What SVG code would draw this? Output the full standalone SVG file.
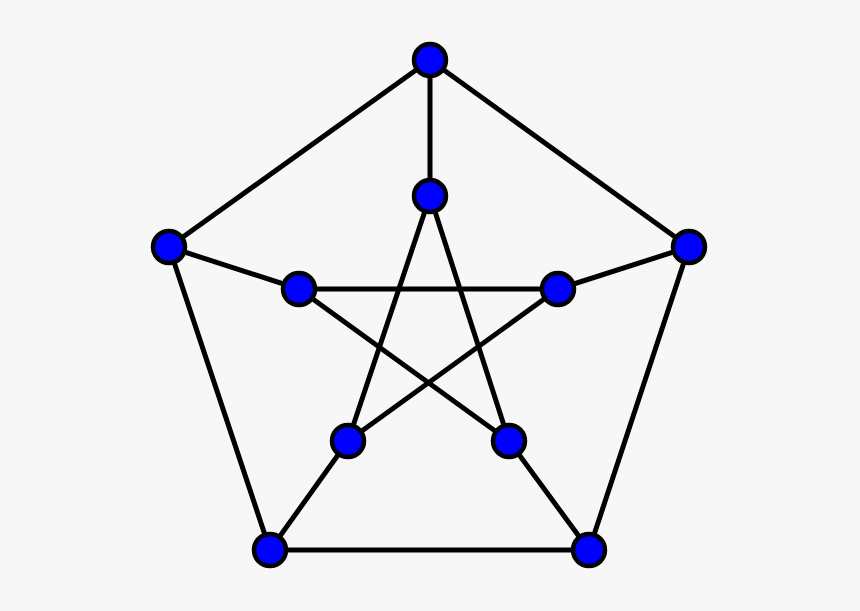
<svg xmlns="http://www.w3.org/2000/svg" width="860" height="611" viewBox="0 0 860 611">
<style>
.e{stroke:#000;stroke-width:5;fill:none;stroke-linecap:round}
.n{fill:#0000ff;stroke:#000;stroke-width:4.5}
</style>
<rect width="860" height="611" fill="#f7f7f7"/>
<g id="edges">
<line class="e" x1="430" y1="60" x2="689" y2="247"/>
<line class="e" x1="689" y1="247" x2="589" y2="550"/>
<line class="e" x1="589" y1="550" x2="270" y2="550"/>
<line class="e" x1="270" y1="550" x2="169" y2="247"/>
<line class="e" x1="169" y1="247" x2="430" y2="60"/>
<line class="e" x1="430" y1="60" x2="430" y2="196"/>
<line class="e" x1="689" y1="247" x2="558" y2="289"/>
<line class="e" x1="589" y1="550" x2="509" y2="441"/>
<line class="e" x1="270" y1="550" x2="348" y2="441"/>
<line class="e" x1="169" y1="247" x2="299" y2="289"/>
<line class="e" x1="430" y1="196" x2="509" y2="441"/>
<line class="e" x1="509" y1="441" x2="299" y2="289"/>
<line class="e" x1="299" y1="289" x2="558" y2="289"/>
<line class="e" x1="558" y1="289" x2="348" y2="441"/>
<line class="e" x1="348" y1="441" x2="430" y2="196"/>
</g>
<g id="n1"><circle class="n" cx="430" cy="60" r="16"/></g>
<g id="n2"><circle class="n" cx="689" cy="247" r="16"/></g>
<g id="n3"><circle class="n" cx="589" cy="550" r="16"/></g>
<g id="n4"><circle class="n" cx="270" cy="550" r="16"/></g>
<g id="n5"><circle class="n" cx="169" cy="247" r="16"/></g>
<g id="n6"><circle class="n" cx="430" cy="196" r="16"/></g>
<g id="n7"><circle class="n" cx="558" cy="289" r="16"/></g>
<g id="n8"><circle class="n" cx="509" cy="441" r="16"/></g>
<g id="n9"><circle class="n" cx="348" cy="441" r="16"/></g>
<g id="n10"><circle class="n" cx="299" cy="289" r="16"/></g>
</svg>
